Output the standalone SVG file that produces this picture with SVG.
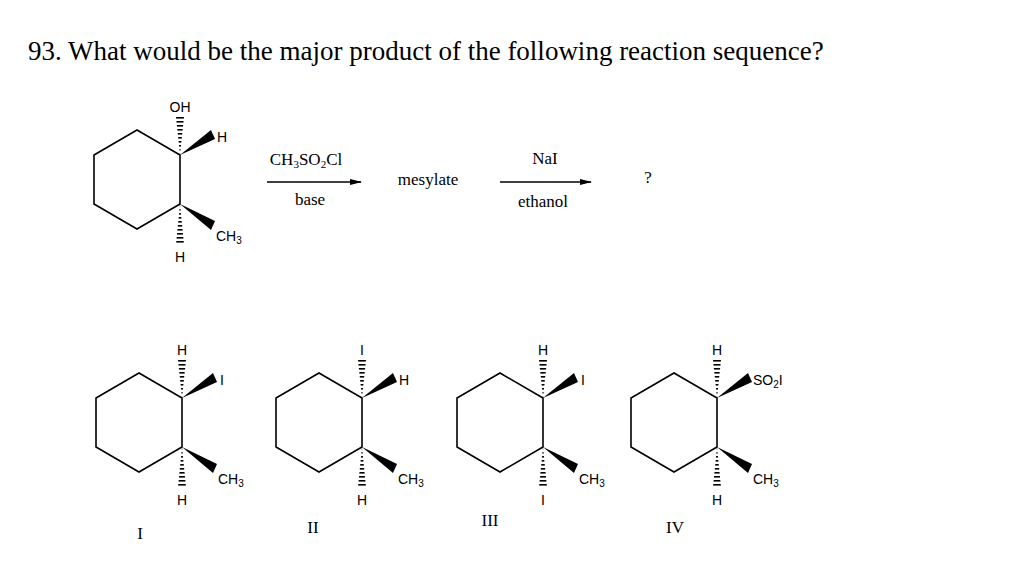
<svg xmlns="http://www.w3.org/2000/svg" width="1024" height="569" viewBox="0 0 1024 569">
<defs>
<pattern id="hp" patternUnits="userSpaceOnUse" width="20" height="4"><rect x="0" y="0" width="20" height="1.6" fill="#000"/></pattern>
<marker id="ar" markerWidth="12" markerHeight="8" refX="11" refY="4" orient="auto" markerUnits="userSpaceOnUse"><path d="M0,1 L12,4 L0,7 Z" fill="#000"/></marker>
</defs>
<style>
.ring{fill:none;stroke:#000;stroke-width:1.6;stroke-linejoin:miter}
.hash{fill:url(#hp)}
.wedge{fill:#000}
.at{font-family:"Liberation Sans",Arial,sans-serif;font-size:14px}
.tm{font-family:"Liberation Serif","Times New Roman",serif;font-size:17px}
.title{font-family:"Liberation Serif","Times New Roman",serif;font-size:27px}
.rn{font-family:"Liberation Serif","Times New Roman",serif;font-size:17px}
</style>
<rect width="1024" height="569" fill="#fff"/>
<text class="title" x="28" y="60">93.  What would be the major product of the following reaction sequence?</text>

<g id="start" transform="translate(-2,-243)">
<polygon class="ring" points="182,398 182,447 139,472 96,447 96,398 139,373"/>
<polygon class="hash" points="182,398 178,360 186,360"/>
<polygon class="hash" points="182,447 178,487 186,487"/>
<polygon class="wedge" points="182,398 213,373 217,382"/>
<polygon class="wedge" points="182,447 217,464 213,473"/>
<text class="at" x="182" y="355" text-anchor="middle">OH</text>
<text class="at" x="219" y="385">H</text>
<text class="at" x="218" y="484">CH<tspan font-size="10" dy="3">3</tspan></text>
<text class="at" x="182" y="505" text-anchor="middle">H</text>
</g>

<g id="connectors">
<line x1="267" y1="182" x2="361" y2="182" stroke="#000" stroke-width="1.3" marker-end="url(#ar)"/>
<line x1="500" y1="182" x2="591" y2="182" stroke="#000" stroke-width="1.3" marker-end="url(#ar)"/>
</g>
<text class="tm" x="306" y="165" text-anchor="middle">CH<tspan font-size="11" dy="3">3</tspan><tspan dy="-3">SO</tspan><tspan font-size="11" dy="3">2</tspan><tspan dy="-3">Cl</tspan></text>
<text class="tm" x="310" y="205" text-anchor="middle">base</text>
<text class="tm" x="428" y="185" text-anchor="middle">mesylate</text>
<text class="tm" x="545" y="164" text-anchor="middle">NaI</text>
<text class="tm" x="543" y="207" text-anchor="middle">ethanol</text>
<text class="tm" x="648" y="183" text-anchor="middle">?</text>

<g id="opt1">
<polygon class="ring" points="182,398 182,447 139,472 96,447 96,398 139,373"/>
<polygon class="hash" points="182,398 178,360 186,360"/>
<polygon class="hash" points="182,447 178,487 186,487"/>
<polygon class="wedge" points="182,398 213,373 217,382"/>
<polygon class="wedge" points="182,447 217,464 213,473"/>
<text class="at" x="182" y="355" text-anchor="middle">H</text>
<text class="at" x="220" y="385">I</text>
<text class="at" x="218" y="484">CH<tspan font-size="10" dy="3">3</tspan></text>
<text class="at" x="182" y="505" text-anchor="middle">H</text>
<text class="rn" x="140" y="539" text-anchor="middle">I</text>
</g>

<g id="opt2">
<polygon class="ring" points="362,398 362,447 319,472 276,447 276,398 319,373"/>
<polygon class="hash" points="362,398 358,360 366,360"/>
<polygon class="hash" points="362,447 358,487 366,487"/>
<polygon class="wedge" points="362,398 393,373 397,382"/>
<polygon class="wedge" points="362,447 397,464 393,473"/>
<text class="at" x="362" y="355" text-anchor="middle">I</text>
<text class="at" x="399" y="385">H</text>
<text class="at" x="398" y="484">CH<tspan font-size="10" dy="3">3</tspan></text>
<text class="at" x="362" y="505" text-anchor="middle">H</text>
<text class="rn" x="313" y="533" text-anchor="middle">II</text>
</g>

<g id="opt3">
<polygon class="ring" points="543,398 543,447 500,472 457,447 457,398 500,373"/>
<polygon class="hash" points="543,398 539,360 547,360"/>
<polygon class="hash" points="543,447 539,487 547,487"/>
<polygon class="wedge" points="543,398 574,373 578,382"/>
<polygon class="wedge" points="543,447 578,464 574,473"/>
<text class="at" x="543" y="355" text-anchor="middle">H</text>
<text class="at" x="581" y="385">I</text>
<text class="at" x="579" y="484">CH<tspan font-size="10" dy="3">3</tspan></text>
<text class="at" x="543" y="505" text-anchor="middle">I</text>
<text class="rn" x="490" y="526" text-anchor="middle">III</text>
</g>

<g id="opt4">
<polygon class="ring" points="717,398 717,447 674,472 631,447 631,398 674,373"/>
<polygon class="hash" points="717,398 713,360 721,360"/>
<polygon class="hash" points="717,447 713,487 721,487"/>
<polygon class="wedge" points="717,398 748,373 752,382"/>
<polygon class="wedge" points="717,447 752,464 748,473"/>
<text class="at" x="717" y="355" text-anchor="middle">H</text>
<text class="at" x="753" y="385">SO<tspan font-size="10" dy="3">2</tspan><tspan dy="-3">I</tspan></text>
<text class="at" x="753" y="484">CH<tspan font-size="10" dy="3">3</tspan></text>
<text class="at" x="717" y="505" text-anchor="middle">H</text>
<text class="rn" x="675" y="533" text-anchor="middle">IV</text>
</g>
</svg>
